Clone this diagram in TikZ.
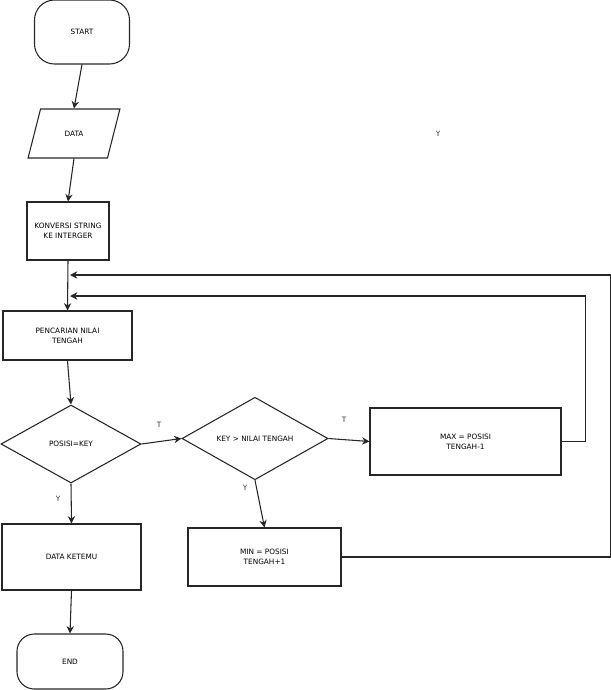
\documentclass[tikz,border=0pt]{standalone}
\usepackage{fontspec}
\setmainfont{DejaVu Sans}
\usetikzlibrary{arrows.meta,shapes.geometric,positioning}

\begin{document}
\begin{tikzpicture}[x=0.75pt,y=-0.75pt,
    font=\fontsize{5.5}{7.5}\selectfont,
    garis/.style={line width=0.8pt, draw=black!85},
    panah/.style={garis, -{Stealth[length=5.5pt,width=5.5pt]}},
    terminal/.style={garis, rectangle, rounded corners=15pt, align=center},
    proses/.style={garis, rectangle, align=center},
    masukan/.style={garis, trapezium, trapezium left angle=70, trapezium right angle=110,
        trapezium stretches=true, align=center},
    keputusan/.style={garis, diamond, inner sep=0pt, align=center},
    ket/.style={text=black!80}]
    \useasboundingbox (0,0) rectangle (611,690);

    % Mulai dan input
    \node[terminal, minimum width=71.25pt, minimum height=48pt] (start) at (82,32) {START};
    \node[masukan, minimum width=69pt, minimum height=36.75pt] (data) at (74,133.5) {DATA};
    \node[proses, minimum width=61.5pt, minimum height=43.5pt] (konversi) at (68,231) {KONVERSI STRING\\KE INTERGER};
    \node[proses, minimum width=96.75pt, minimum height=36.75pt] (cari) at (67.5,335.5) {PENCARIAN NILAI\\TENGAH};

    % Keputusan
    \node[keputusan, minimum width=105pt, minimum height=58.5pt] (posisi) at (71,444) {POSISI=KEY};
    \node[keputusan, minimum width=109.5pt, minimum height=56.25pt] (key) at (255,438.5) {KEY > NILAI TENGAH};

    % Proses batas
    \node[proses, minimum width=143.25pt, minimum height=50.25pt] (max) at (465.5,441.5) {MAX = POSISI\\TENGAH-1};
    \node[proses, minimum width=114.75pt, minimum height=43.5pt] (min) at (264.5,557) {MIN = POSISI\\TENGAH+1};

    % Hasil dan selesai
    \node[proses, minimum width=104.25pt, minimum height=49.5pt] (ketemu) at (71.5,557) {DATA KETEMU};
    \node[terminal, rounded corners=13pt, minimum width=79.5pt, minimum height=41.25pt] (end) at (70,661.5) {END};

    % Label cabang
    \node[ket] (t1) at (159,425) {T};
    \node[ket] (t2) at (344,420) {T};
    \node[ket] (y1) at (58,499) {Y};
    \node[ket] (y2) at (245,488) {Y};
    \node[ket] (y3) at (438,134) {Y};

    % Alur utama
    \draw[panah] (start.south) -- (data.north);
    \draw[panah] (data.south) -- (konversi.north);
    \draw[panah] (konversi.south) -- (cari.north);
    \draw[panah] (cari.south) -- (posisi.north);
    \draw[panah] (posisi.east) -- (key.west);
    \draw[panah] (posisi.south) -- (ketemu.north);
    \draw[panah] (key.east) -- (max.west);
    \draw[panah] (key.south) -- (min.north);
    \draw[panah] (ketemu.south) -- (end.north);

    % Kembali ke pencarian
    \coordinate (balik1) at (70,275);
    \coordinate (balik2) at (70,296);
    \draw[panah] (max.east) -- ++(24,0) |- (balik2);
    \draw[panah] (min.east) -- ++(269,0) |- (balik1);
\end{tikzpicture}
\end{document}
